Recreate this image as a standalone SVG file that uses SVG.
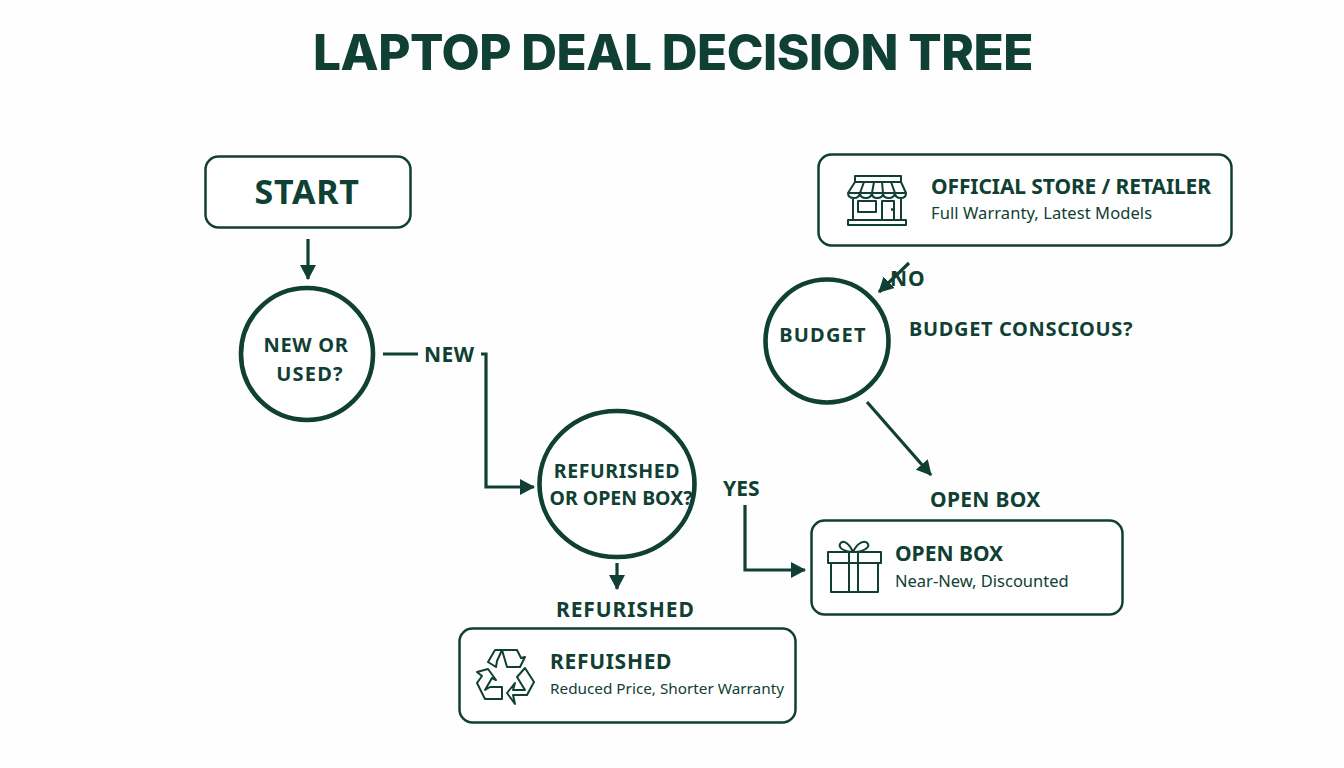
<svg xmlns="http://www.w3.org/2000/svg" width="1344" height="768" viewBox="0 0 1344 768">
<defs>
<style>
text{font-family:"Noto Sans","Open Sans",sans-serif;fill:#0f4033}
.b{font-weight:700}
.box{fill:#fff;stroke:#0f4033;stroke-width:2.5}
.circ{fill:#fff;stroke:#0f4033;stroke-width:4.6}
.line{fill:none;stroke:#0f4033;stroke-width:3.2}
.ico{fill:none;stroke:#0f4033;stroke-width:2;stroke-linejoin:round;stroke-linecap:round}
.lab{font-size:21px;font-weight:700}
.n{font-size:20px;font-weight:700;text-anchor:middle}
.t{font-size:21px;font-weight:700}
.s{font-size:16.5px}
</style>
<marker id="a" markerUnits="userSpaceOnUse" markerWidth="16" markerHeight="16" refX="14" refY="8" orient="auto"><path d="M0 0L15 8L0 16Z" fill="#0f4033"/></marker>
</defs>
<rect width="1344" height="768" fill="#fefefe"/>
<text id="title" x="673" y="70" text-anchor="middle" style="font-family:Inter,'Noto Sans',sans-serif;font-size:49.500px;font-weight:800;letter-spacing:-0.480px">LAPTOP DEAL DECISION TREE</text>
<g id="connectors">
<path class="line" d="M308 239V279" marker-end="url(#a)"/>
<path class="line" d="M383 354H418"/>
<path class="line" d="M481 354H486V487H534" marker-end="url(#a)"/>
<path class="line" d="M617 563V589" marker-end="url(#a)"/>
<path class="line" d="M745 505V570H805" marker-end="url(#a)"/>
<path class="line" d="M867 402L931 475" marker-end="url(#a)"/>
<path class="line" d="M909 263L879 292" marker-end="url(#a)"/>
</g>
<g id="start"><rect class="box" x="205.500" y="156.500" width="205" height="71" rx="13"/><text x="307" y="204" text-anchor="middle" class="b" style="font-size:34px;letter-spacing:0.700px">START</text></g>
<g id="new-or-used"><circle class="circ" cx="307" cy="354" r="66"/><text class="n" x="306" y="352" style="letter-spacing:.7px">NEW OR</text><text class="n" x="310" y="381" style="letter-spacing:1.200px">USED?</text></g>
<g id="refurb-question"><ellipse class="circ" cx="617" cy="484" rx="77.500" ry="73"/><text class="n" x="617" y="478" style="font-size:19.500px;letter-spacing:.6px">REFURISHED</text><text class="n" x="621" y="505" style="font-size:19.500px">OR OPEN BOX?</text></g>
<g id="budget"><circle class="circ" cx="827" cy="341" r="61.500"/><text class="n" x="823" y="342" style="letter-spacing:1.200px">BUDGET</text></g>
<g id="official">
<rect class="box" x="818.500" y="154.500" width="413" height="91" rx="13"/>
<g class="ico">
<path d="M855 176H901V182H855ZM855 182L848 193Q848 198 854 198Q859 198 860 193Q860 198 866 198Q871 198 872 193Q872 198 877 198Q883 198 883 193Q883 198 889 198Q894 198 895 193Q895 198 901 198Q906 198 906 193L901 182H855M860 193L864 182M872 193L874 182M883 193L882 182M895 193L891 182M848 193H906M853 198V220M901 198V220M848 220H906V225H848ZM858 201H876V212H858ZM882 220V201H894V220M892 209V210"/>
</g>
<text class="t" x="931" y="194" style="letter-spacing:-.1px">OFFICIAL STORE / RETAILER</text>
<text class="s" x="931" y="219" style="letter-spacing:.08px">Full Warranty, Latest Models</text>
</g>
<g id="open-box">
<rect class="box" x="811.500" y="520.500" width="311" height="94" rx="13"/>
<g class="ico">
<path d="M828 552H881V563H828ZM831 563V592H878V563M849 552V592M858 552V592M853 552C845 552 838 548 840 544C842 540 848 541 853 552C858 541 866 540 868 544C870 548 862 552 855 552"/>
</g>
<text class="t" x="895" y="561">OPEN BOX</text>
<text class="s" x="895" y="587">Near-New, Discounted</text>
</g>
<g id="refurbished">
<rect class="box" x="459.500" y="628.500" width="336" height="94" rx="13"/>
<g class="ico">
<path d="M488 662L495 650H502L497 661L496 667ZM502 650H517L521 658L525 657L520 667H507ZM477 672L488 669L496 680L492 678L485 690L490 687H502V699H485L477 683L482 676ZM507 693L515 683L513 690H525L517 677L525 668L534 682L527 695H513L515 704Z"/>
</g>
<text class="t" x="550" y="669" style="letter-spacing:.7px">REFUISHED</text>
<text class="s" x="550" y="694" style="font-size:15.300px">Reduced Price, Shorter Warranty</text>
</g>
<g id="labels">
<text class="lab" x="424" y="362" style="letter-spacing:.5px">NEW</text>
<text class="lab" x="723" y="496">YES</text>
<text class="lab" x="890" y="286" style="letter-spacing:1px">NO</text>
<text class="lab" x="909" y="336" style="font-size:20px;letter-spacing:.65px">BUDGET CONSCIOUS?</text>
<text class="lab" x="930" y="507" style="letter-spacing:.3px">OPEN BOX</text>
<text class="lab" x="556" y="617" style="letter-spacing:.9px">REFURISHED</text>
</g>
</svg>
